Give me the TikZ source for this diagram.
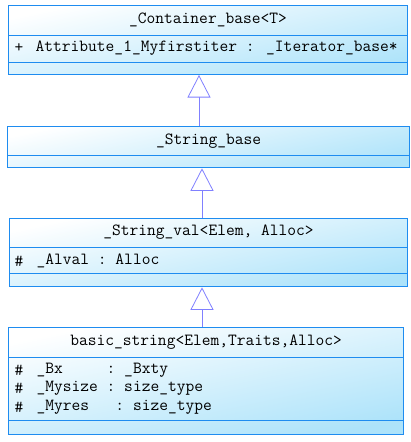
\documentclass[tikz,border=0pt]{standalone}
\usepackage{fontspec}
\usetikzlibrary{arrows.meta}
\definecolor{umlborder}{HTML}{1E8CF0}
\definecolor{umlfill}{HTML}{ADE3FA}
\definecolor{umlarrow}{HTML}{8080FF}
\newcommand{\umlfont}{\fontsize{17}{19}\selectfont\ttfamily}
\tikzset{>=stealth}
\tikzset{
    classbox/.style={draw=umlborder, line width=1pt, inner sep=0pt, anchor=north west,
        top color=white, bottom color=umlfill, shading angle=12},
    part/.style={draw=umlborder, line width=1pt},
    classname/.style={font=\umlfont, inner sep=0pt},
    member/.style={font=\umlfont, inner sep=0pt, anchor=west},
    inherit/.style={draw=umlarrow, line width=0.8pt,
        -{Triangle[open, length=22.5pt, width=23pt, fill=white]}},
}

\begin{document}
\begin{tikzpicture}[x=1pt, y=-1pt]
    \useasboundingbox (0,0) rectangle (411,442);
    \coordinate (ax1) at (199,0);
    \coordinate (ax2) at (202,0);

    % _Container_base<T>
    \node[classbox, minimum width=399pt, minimum height=69pt] (cont) at (8,5) {};
    \draw[part] ([yshift=-30pt]cont.north west) -- ([yshift=-30pt]cont.north east);
    \draw[part] ([yshift=-57pt]cont.north west) -- ([yshift=-57pt]cont.north east);
    \node[classname] (cont-name) at ([yshift=-15pt]cont.north) {\_Container\_base<T>};
    \node[member] (cont-vis) at (14.5,48.5) {+};
    \node[member] (cont-attr) at (35.5,48.5) {Attribute\_1\_Myfirstiter : \_Iterator\_base*};

    % _String_base
    \node[classbox, minimum width=401.7pt, minimum height=41.6pt] (strbase) at (7.3,125.7) {};
    \draw[part] ([yshift=-30pt]strbase.north west) -- ([yshift=-30pt]strbase.north east);
    \node[classname] (strbase-name) at ([yshift=-15pt]strbase.north) {\_String\_base};

    % _String_val<Elem, Alloc>
    \node[classbox, minimum width=397.4pt, minimum height=68.3pt] (strval) at (9.3,218) {};
    \draw[part] ([yshift=-29pt]strval.north west) -- ([yshift=-29pt]strval.north east);
    \draw[part] ([yshift=-55.7pt]strval.north west) -- ([yshift=-55.7pt]strval.north east);
    \node[classname] (strval-name) at ([yshift=-14.5pt]strval.north) {\_String\_val<Elem, Alloc>};
    \node[member] (strval-vis) at (14.5,261) {\#};
    \node[member] (strval-attr) at (36.5,261) {\_Alval~:~Alloc};

    % basic_string<Elem,Traits,Alloc>
    \node[classbox, minimum width=394.7pt, minimum height=107pt] (bstr) at (8.3,327) {};
    \draw[part] ([yshift=-30pt]bstr.north west) -- ([yshift=-30pt]bstr.north east);
    \draw[part] ([yshift=-93pt]bstr.north west) -- ([yshift=-93pt]bstr.north east);
    \node[classname] (bstr-name) at ([yshift=-15pt]bstr.north) {basic\_string<Elem,Traits,Alloc>};
    \node[member] (bstr-vis1) at (14.5,370) {\#};
    \node[member] (bstr-vis2) at (14.5,388.5) {\#};
    \node[member] (bstr-vis3) at (14.5,407) {\#};
    \node[member] (bstr-attr1) at (36.5,370) {\_Bx~~~~~:~\_Bxty};
    \node[member] (bstr-attr2) at (36.5,388.5) {\_Mysize~:~size\_type};
    \node[member] (bstr-attr3) at (36.5,407) {\_Myres~~~:~size\_type};

    % generalisations
    \draw[inherit] (strbase.north -| ax1) -- (cont.south -| ax1);
    \draw[inherit] (strval.north -| ax2) -- (strbase.south -| ax2);
    \draw[inherit] (bstr.north -| ax2) -- (strval.south -| ax2);
\end{tikzpicture}
\end{document}
